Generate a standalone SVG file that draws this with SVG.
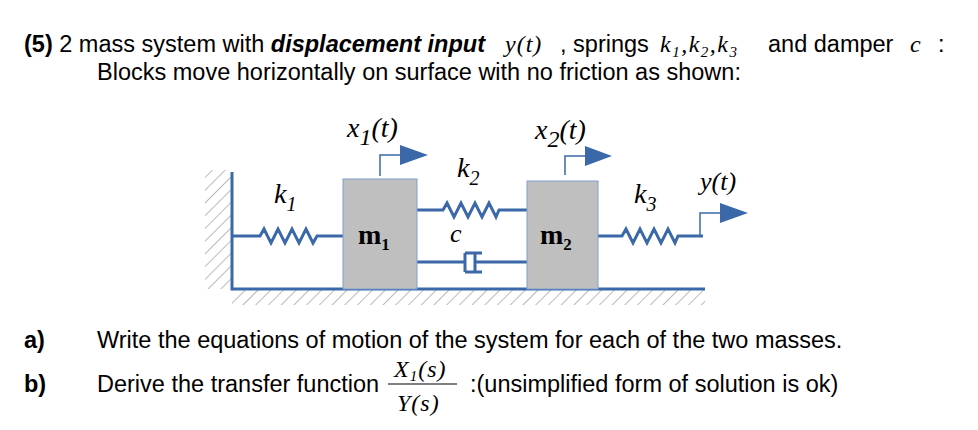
<svg xmlns="http://www.w3.org/2000/svg" width="978" height="430" viewBox="0 0 978 430">
<defs>
<style>
.t{font-family:"Liberation Sans",Arial,sans-serif;font-size:23.5px;fill:#000}
.m{font-family:"Liberation Serif","Times New Roman",serif;font-style:italic;fill:#000}
.b{stroke:#3a68a8;stroke-width:3;fill:none}
.th{stroke:#3a68a8;stroke-width:1.5;fill:none}
.box{fill:#bfbfbf;stroke:#7f9fcf;stroke-width:1}
.tri{fill:#3a68a8}
</style>
<pattern id="hat" width="9" height="9" patternUnits="userSpaceOnUse" patternTransform="rotate(45)">
<line x1="0" y1="0" x2="0" y2="9" stroke="#555" stroke-width="0.8"/>
</pattern>
</defs>
<rect width="978" height="430" fill="#fff"/>
<text class="t" x="24" y="52"><tspan font-weight="bold">(5)</tspan> 2 mass system with <tspan font-weight="bold" font-style="italic">displacement input</tspan></text>
<text class="m" x="505" y="52" font-size="24" letter-spacing="1">y(t)</text>
<text class="t" x="560" y="52">, springs</text>
<text class="m" x="660" y="52" font-size="24" letter-spacing="1.5">k<tspan font-size="15" dy="5">1</tspan><tspan dy="-5">,k</tspan><tspan font-size="15" dy="5">2</tspan><tspan dy="-5">,k</tspan><tspan font-size="15" dy="5">3</tspan></text>
<text class="t" x="768" y="52">and damper</text>
<text class="m" x="910" y="52" font-size="24">c</text>
<text class="t" x="938" y="52">:</text>
<text class="t" x="97" y="80">Blocks move horizontally on surface with no friction as shown:</text>
<rect x="205" y="170" width="27" height="119" fill="url(#hat)"/>
<rect x="232" y="289" width="473" height="16" fill="url(#hat)"/>
<g id="connectors">
<path class="b" d="M232,172V289H705"/>
<path class="b" d="M232,236H260l4,-7 7,14 7,-14 7,14 7,-14 7,14 7,-14 7,14 4,-7H343"/>
<path class="b" d="M417,210H443l4,-7 7,14 7,-14 7,14 7,-14 7,14 7,-14 7,14 3,-7H527"/>
<path class="b" d="M417,262H465M527,262H475M465,253V272M475,253V272M465,253H482M465,272H482"/>
<path class="b" d="M598,236H622l4,-7 7,14 7,-14 7,14 7,-14 7,14 7,-14 7,14 3,-7H703"/>
<path class="th" d="M380,176V155H402M565,175V156H587M700,236V213H720"/>
<polygon class="tri" points="400,145 428,155 400,165"/>
<polygon class="tri" points="585,146 612,156 585,166"/>
<polygon class="tri" points="720,203 748,213 720,223"/>
</g>
<g id="m1"><rect class="box" x="343" y="179" width="74" height="110"/>
<text x="358" y="244" font-family="Liberation Serif,serif" font-weight="bold" font-size="28">m<tspan font-size="17" dy="6">1</tspan></text></g>
<g id="m2"><rect class="box" x="527" y="181" width="71" height="108"/>
<text x="540" y="244" font-family="Liberation Serif,serif" font-weight="bold" font-size="28">m<tspan font-size="17" dy="6">2</tspan></text></g>
<text class="m" x="274" y="203" font-size="28">k<tspan font-size="20" dy="8">1</tspan></text>
<text class="m" x="457" y="177" font-size="28">k<tspan font-size="20" dy="8">2</tspan></text>
<text class="m" x="450" y="242" font-size="26">c</text>
<text class="m" x="634" y="203" font-size="28">k<tspan font-size="20" dy="8">3</tspan></text>
<text class="m" x="347" y="137" font-size="28">x<tspan font-size="24" dy="8">1</tspan><tspan dy="-8">(t)</tspan></text>
<text class="m" x="535" y="139" font-size="28">x<tspan font-size="24" dy="8">2</tspan><tspan dy="-8">(t)</tspan></text>
<text class="m" x="700" y="190" font-size="26">y(t)</text>
<text class="t" x="24" y="348" font-weight="bold">a)</text>
<text class="t" x="97" y="348">Write the equations of motion of the system for each of the two masses.</text>
<text class="t" x="24" y="392" font-weight="bold">b)</text>
<text class="t" x="97" y="392">Derive the transfer function</text>
<text class="m" x="394" y="377" font-size="24" letter-spacing="1">X<tspan font-size="15" dy="4">1</tspan><tspan dy="-4">(s)</tspan></text>
<line x1="388" y1="384" x2="457" y2="384" stroke="#000" stroke-width="1"/>
<text class="m" x="397" y="411" font-size="24" letter-spacing="1">Y(s)</text>
<text class="t" x="470" y="392">:(unsimplified form of solution is ok)</text>
</svg>
